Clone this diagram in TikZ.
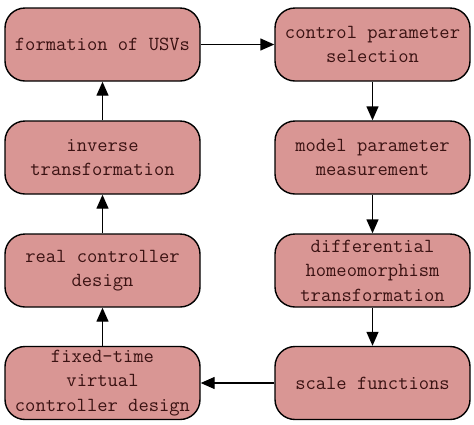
\documentclass[tikz,border=0pt]{standalone}
\usetikzlibrary{arrows.meta}
\definecolor{boxfill}{HTML}{D99694}
\definecolor{txt}{HTML}{3A1212}
\tikzset{
  flowbox/.style={draw=black, line width=1.4pt, fill=boxfill, rounded corners=20pt,
    minimum width=195pt, minimum height=73pt, inner sep=0pt, align=center,
    text=txt, font=\ttfamily\fontsize{20}{24.5}\selectfont},
  flowarrow/.style={line width=1.4pt, -{Triangle[width=12pt,length=14pt]}}
}
\begin{document}
\begin{tikzpicture}[x=1pt,y=1pt]
\useasboundingbox (0,0) rectangle (474,-424);
\node[flowbox] (formation) at (102.5,-44.5) {formation of USVs};
\node[flowbox] (inverse) at (102.5,-157.5) {inverse\\transformation};
\node[flowbox] (real) at (102.5,-270.5) {real controller\\design};
\node[flowbox] (fixed) at (102.5,-383) {fixed-time\\virtual\\controller design};
\node[flowbox] (control) at (372.5,-44.5) {control parameter\\selection};
\node[flowbox] (model) at (372.5,-157.5) {model parameter\\measurement};
\node[flowbox] (diff) at (372.5,-270.5) {differential\\homeomorphism\\transformation};
\node[flowbox] (scale) at (372.5,-383) {scale functions};
\draw[flowarrow] (formation) -- (control);
\draw[flowarrow] (control) -- (model);
\draw[flowarrow] (model) -- (diff);
\draw[flowarrow] (diff) -- (scale);
\draw[flowarrow] (scale) -- (fixed);
\draw[flowarrow] (fixed) -- (real);
\draw[flowarrow] (real) -- (inverse);
\draw[flowarrow] (inverse) -- (formation);
\end{tikzpicture}
\end{document}
